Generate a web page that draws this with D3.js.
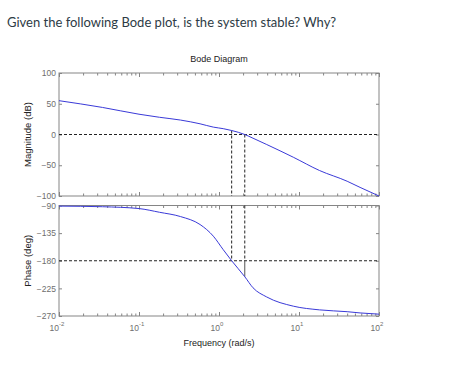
<!DOCTYPE html>
<html>
<head>
<meta charset="utf-8">
<script src="https://cdn.jsdelivr.net/npm/d3@7"></script>
<style>
  body { margin: 0; background: #fff; }
  svg { display: block; }
</style>
</head>
<body>
<svg id="chart" width="450" height="372"></svg>
<script>
// values
const freqs = [0.01, 0.035, 0.1, 0.18, 0.33, 0.58, 0.85, 1.13, 1.44, 2.1, 2.66, 3.95, 8.5, 18, 40, 58, 100];
const magnitude = [55, 44, 33, 28, 23.5, 17.4, 12, 9.5, 6.5, 0, -6, -16.3, -37, -58.5, -76, -86, -100];
const phase = [-91, -92, -95, -101, -108, -121, -140, -162, -180, -206, -224, -239, -254, -260, -263, -265, -267];
const magTicks = [100, 50, 0, -50, -100];
const phaseTicks = [-90, -135, -180, -225, -270];
const decades = [0.01, 0.1, 1, 10, 100];
const decadeLabels = ["-2", "-1", "0", "1", "2"];
const phaseCrossFreq = 1.44;  // phase = -180
const gainCrossFreq = 2.1;    // magnitude = 0 dB
const magAtPhaseCross = 6.5;
const phaseAtGainCross = -206;

const svg = d3.select("#chart");
const axisGrey = "#858585";
const labelGrey = "#6e6e6e";
const lineBlue = "#3a3ad8";

svg.append("text")
    .attr("x", 7)
    .attr("y", 27)
    .style("font-family", "Lato")
    .style("font-size", "13px")
    .style("fill", "#2d3b45")
    .text("Given the following Bode plot, is the system stable? Why?");

svg.append("text")
    .attr("x", 219)
    .attr("y", 62)
    .style("text-anchor", "middle")
    .style("font-family", "Liberation Sans, Arial")
    .style("font-size", "9px")
    .style("fill", "#222")
    .text("Bode Diagram");

const x = d3.scaleLog().domain([0.01, 100]).range([59, 379]);
const yMag = d3.scaleLinear().domain([-100, 100]).range([196, 73]);
const yPh = d3.scaleLinear().domain([-270, -90]).range([316, 205.5]);

// minor log ticks 2..9 per decade
const minor = [];
[0.01, 0.1, 1, 10].forEach(d => {
    for (let k = 2; k <= 9; k++) minor.push(d * k);
});

function frame(y, ticks) {
    const g = svg.append("g");
    const [y0, y1] = y.range();

    g.append("g")
        .attr("transform", `translate(${x(0.01)},0)`)
        .call(d3.axisLeft(y).tickValues(ticks).tickSize(-3).tickPadding(3))
        .call(s => s.select(".domain").remove());
    g.append("g")
        .attr("transform", `translate(${x(100)},0)`)
        .call(d3.axisRight(y).tickValues(ticks).tickSize(-3).tickFormat(""))
        .call(s => s.select(".domain").remove());

    [[y1, d3.axisTop], [y0, d3.axisBottom]].forEach(([yy, ax]) => {
        g.append("g")
            .attr("transform", `translate(0,${yy})`)
            .call(ax(x).tickValues(decades).tickSize(-4).tickFormat(""))
            .call(s => s.select(".domain").remove());
        g.append("g")
            .attr("transform", `translate(0,${yy})`)
            .call(ax(x).tickValues(minor).tickSize(-2.5).tickFormat(""))
            .call(s => s.select(".domain").remove());
    });

    g.append("rect")
        .attr("x", x(0.01))
        .attr("y", y1)
        .attr("width", x(100) - x(0.01))
        .attr("height", y0 - y1)
        .attr("fill", "none")
        .attr("stroke", axisGrey);

    g.selectAll("line").attr("stroke", axisGrey);
    g.selectAll(".tick text")
        .style("font-family", "Liberation Sans, Arial")
        .style("font-size", "8.5px")
        .style("fill", labelGrey);
    return g;
}

frame(yMag, magTicks);
frame(yPh, phaseTicks);

// decade labels under the phase plot
const xl = svg.append("g")
    .style("font-family", "Liberation Sans, Arial")
    .style("fill", labelGrey);
decades.forEach((d, i) => {
    const t = xl.append("text")
        .attr("x", x(d) - 2)
        .attr("y", 331)
        .style("text-anchor", "middle")
        .style("font-size", "8.5px");
    t.append("tspan").text("10");
    t.append("tspan")
        .attr("dy", -5)
        .style("font-size", "6px")
        .text(decadeLabels[i]);
});

// axis titles
svg.append("text")
    .attr("transform", `translate(31,${yMag(0)}) rotate(-90)`)
    .style("text-anchor", "middle")
    .style("font-family", "Liberation Sans, Arial")
    .style("font-size", "9.5px")
    .style("fill", "#222")
    .text("Magnitude (dB)");
svg.append("text")
    .attr("transform", `translate(31,${yPh(-180)}) rotate(-90)`)
    .style("text-anchor", "middle")
    .style("font-family", "Liberation Sans, Arial")
    .style("font-size", "9.5px")
    .style("fill", "#222")
    .text("Phase (deg)");
svg.append("text")
    .attr("x", 219)
    .attr("y", 346)
    .style("text-anchor", "middle")
    .style("font-family", "Liberation Sans, Arial")
    .style("font-size", "9px")
    .style("fill", "#222")
    .text("Frequency  (rad/s)");

// reference lines
const dash = "3,2";
const refs = svg.append("g").attr("stroke", "#222").attr("stroke-width", 1);
refs.append("line")
    .attr("x1", x(0.01)).attr("x2", x(100))
    .attr("y1", yMag(0)).attr("y2", yMag(0))
    .attr("stroke-dasharray", dash);
refs.append("line")
    .attr("x1", x(0.01)).attr("x2", x(100))
    .attr("y1", yPh(-180)).attr("y2", yPh(-180))
    .attr("stroke-dasharray", dash);
// magnitude plot verticals
refs.append("line")
    .attr("x1", x(phaseCrossFreq)).attr("x2", x(phaseCrossFreq))
    .attr("y1", yMag(magAtPhaseCross)).attr("y2", yMag(-100))
    .attr("stroke-dasharray", dash);
refs.append("line")
    .attr("x1", x(gainCrossFreq)).attr("x2", x(gainCrossFreq))
    .attr("y1", yMag(0)).attr("y2", yMag(-100))
    .attr("stroke-dasharray", dash);
// phase plot verticals
refs.append("line")
    .attr("x1", x(phaseCrossFreq)).attr("x2", x(phaseCrossFreq))
    .attr("y1", yPh(-90)).attr("y2", yPh(-180))
    .attr("stroke-dasharray", dash);
refs.append("line")
    .attr("x1", x(gainCrossFreq)).attr("x2", x(gainCrossFreq))
    .attr("y1", yPh(-90)).attr("y2", yPh(-180))
    .attr("stroke-dasharray", dash);
refs.append("line")
    .attr("x1", x(gainCrossFreq)).attr("x2", x(gainCrossFreq))
    .attr("y1", yPh(-180)).attr("y2", yPh(phaseAtGainCross))
    .attr("stroke", "#555");

// curves
const magLine = d3.line()
    .x((d, i) => x(freqs[i]))
    .y(d => yMag(d))
    .curve(d3.curveMonotoneX);
const phLine = d3.line()
    .x((d, i) => x(freqs[i]))
    .y(d => yPh(d))
    .curve(d3.curveMonotoneX);

svg.append("path")
    .datum(magnitude)
    .attr("d", magLine)
    .attr("fill", "none")
    .attr("stroke", lineBlue)
    .attr("stroke-width", 1);
svg.append("path")
    .datum(phase)
    .attr("d", phLine)
    .attr("fill", "none")
    .attr("stroke", lineBlue)
    .attr("stroke-width", 1);
</script>
</body>
</html>
